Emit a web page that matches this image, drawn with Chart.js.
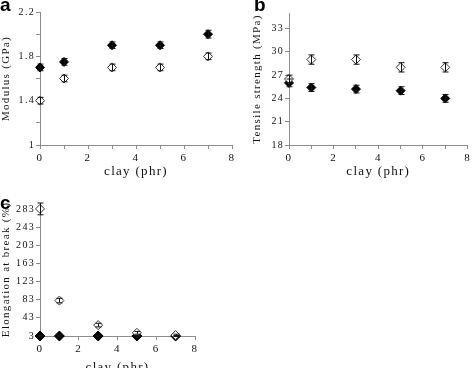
<!DOCTYPE html>
<html>
<head>
<meta charset="utf-8">
<script src="https://cdn.jsdelivr.net/npm/chart.js@4.4.1/dist/chart.umd.min.js"></script>
<style>
	body { margin: 0; background: #fff; width: 474px; height: 368px; position: relative; overflow: hidden; }
	canvas { position: absolute; }
	.tag { position: absolute; font: bold 19px "Liberation Sans", Arial, sans-serif; color: #000; line-height: 1; }
</style>
</head>
<body>
<canvas id="chartA" width="240" height="180" style="left:0;top:0"></canvas>
<canvas id="chartB" width="223" height="180" style="left:251px;top:0"></canvas>
<canvas id="chartC" width="240" height="196" style="left:0;top:180px"></canvas>
<div class="tag" style="left:0;top:-5px">a</div>
<div class="tag" style="left:254px;top:-5px">b</div>
<div class="tag" style="left:0;top:193px">c</div>
<script>
// 数据
const clay = [0, 1, 3, 5, 7];
const clayTicks = [0, 2, 4, 6, 8];

const modulusFilled = [1.7, 1.75, 1.9, 1.9, 2.0];
const modulusFilledErr = [0.03, 0.03, 0.03, 0.03, 0.035];
const modulusOpen = [1.4, 1.6, 1.7, 1.7, 1.8];
const modulusOpenErr = [0.03, 0.03, 0.03, 0.03, 0.03];
const modulusTicks = [1, 1.4, 1.8, 2.2];

const tensileOpen = [26.5, 29, 29, 28, 28];
const tensileOpenErr = [0.5, 0.6, 0.6, 0.6, 0.6];
const tensileFilled = [26, 25.4, 25.2, 25, 24];
const tensileFilledErr = [0.5, 0.5, 0.5, 0.5, 0.5];
const tensileTicks = [18, 21, 24, 27, 30, 33];

const elongOpen = [283, 81, 27, 10, 5];
const elongOpenErr = [13, 5, 4, 3, 2];
const elongFilled = [3, 3, 3, 3, 3];
const elongFilledErr = [1, 1, 1, 1, 1];
const elongTicks = [3, 43, 83, 123, 163, 203, 243, 283];

const SERIF = '"Liberation Serif", "Times New Roman", serif';
const AXIS = '#8c8c8c';

// 字间距插件
const spacingPlugin = {
	id: 'spacing',
	beforeUpdate(chart) { chart.ctx.letterSpacing = '1.3px'; },
	beforeDraw(chart) { chart.ctx.letterSpacing = '1.3px'; }
};

// 误差线插件
const errorBarPlugin = {
	id: 'errorBars',
	afterDatasetsDraw(chart) {
		const ctx = chart.ctx;
		const xs = chart.scales.x, ys = chart.scales.y;
		ctx.save();
		ctx.letterSpacing = '0px';
		chart.data.datasets.forEach(ds => {
			if (!ds.errors) return;
			ctx.strokeStyle = '#111';
			ctx.lineWidth = 1;
			ds.data.forEach((p, i) => {
				const e = ds.errors[i];
				const x = Math.round(xs.getPixelForValue(p.x)) + 0.5;
				const y1 = ys.getPixelForValue(p.y - e);
				const y2 = ys.getPixelForValue(p.y + e);
				ctx.beginPath();
				ctx.moveTo(x, y1); ctx.lineTo(x, y2);
				ctx.moveTo(x - 3, y1); ctx.lineTo(x + 3, y1);
				ctx.moveTo(x - 3, y2); ctx.lineTo(x + 3, y2);
				ctx.stroke();
			});
		});
		ctx.restore();
	}
};

function points(ys) {
	return clay.map((x, i) => ({ x: x, y: ys[i] }));
}

function filledSet(ys, errs, r) {
	return { data: points(ys), errors: errs, pointStyle: 'rectRot', pointRadius: r,
		backgroundColor: '#000', borderColor: '#000', borderWidth: 1, showLine: false, clip: false };
}

function openSet(ys, errs, r) {
	return { data: points(ys), errors: errs, pointStyle: 'rectRot', pointRadius: r,
		backgroundColor: '#fff', borderColor: '#333', borderWidth: 1, showLine: false, clip: false };
}

function hasTick(list, v) {
	return list.some(t => Math.abs(t - v) < 1e-6);
}

// 主刻度之间可插入次刻度
function tickValues(list, split) {
	const out = [];
	list.forEach((v, i) => {
		out.push(v);
		if (i < list.length - 1) {
			for (let k = 1; k < split; k++) out.push(v + (list[i + 1] - v) * k / split);
		}
	});
	return out.map(v => ({ value: v }));
}

function makeChart(id, datasets, opt) {
	const ctx = document.getElementById(id).getContext('2d');
	return new Chart(ctx, {
		type: 'scatter',
		data: { datasets: datasets },
		plugins: [spacingPlugin, errorBarPlugin],
		options: {
			responsive: false,
			animation: false,
			layout: { padding: opt.padding },
			plugins: { legend: { display: false }, tooltip: { enabled: false } },
			scales: {
				x: {
					type: 'linear', min: 0, max: 8,
					border: { color: AXIS },
					grid: { drawOnChartArea: false, tickLength: 4, color: AXIS },
					ticks: {
						autoSkip: false, maxRotation: 0, padding: 3,
						color: '#111', font: { family: SERIF, size: 11 },
						callback: v => hasTick(clayTicks, v) ? String(v) : ''
					},
					title: { display: true, text: 'clay (phr)', color: '#111',
						font: { family: SERIF, size: 13 }, padding: { top: 0, bottom: 1 } },
					afterBuildTicks: s => { s.ticks = tickValues(clayTicks, 2); },
					afterFit: s => { s.height = opt.xHeight; }
				},
				y: {
					type: 'linear', min: opt.yMin, max: opt.yMax,
					border: { color: AXIS },
					grid: { drawOnChartArea: false, tickLength: 4, color: AXIS },
					ticks: {
						autoSkip: false, padding: 1,
						color: '#111', font: { family: SERIF, size: 10 },
						callback: v => hasTick(opt.yTicks, v) ? String(+v.toFixed(2)) : ''
					},
					title: { display: true, text: opt.yTitle, color: '#111',
						font: { family: SERIF, size: 11 }, padding: 0 },
					afterBuildTicks: s => { s.ticks = tickValues(opt.yTicks, opt.ySplit); },
					afterFit: s => { s.width = opt.yWidth; }
				}
			}
		}
	});
}

makeChart('chartA', [
	filledSet(modulusFilled, modulusFilledErr, 4.5),
	openSet(modulusOpen, modulusOpenErr, 4.5)
], {
	padding: { left: 0, top: 12, right: 8, bottom: 0 },
	xHeight: 35, yWidth: 40,
	yMin: 1, yMax: 2.2, ySplit: 2, yTicks: modulusTicks,
	yTitle: 'Modulus (GPa)'
});

makeChart('chartB', [
	openSet(tensileOpen, tensileOpenErr, 4.5),
	filledSet(tensileFilled, tensileFilledErr, 4.5)
], {
	padding: { left: 0, top: 13, right: 1, bottom: 0 },
	xHeight: 35, yWidth: 38,
	yMin: 18, yMax: 35, ySplit: 1, yTicks: tensileTicks,
	yTitle: 'Tensile strength (MPa)'
});

makeChart('chartC', [
	openSet(elongOpen, elongOpenErr, 4.5),
	filledSet(elongFilled, elongFilledErr, 5)
], {
	padding: { left: 0, top: 23, right: 45, bottom: 0 },
	xHeight: 40, yWidth: 40,
	yMin: 3, yMax: 296, ySplit: 1, yTicks: elongTicks,
	yTitle: 'Elongation at break (%)'
});
</script>
</body>
</html>
